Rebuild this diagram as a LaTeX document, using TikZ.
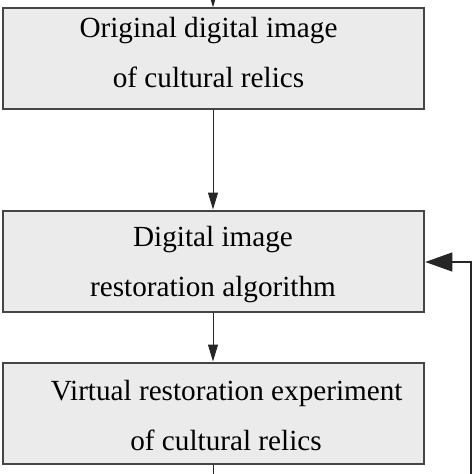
\documentclass[tikz,border=0pt]{standalone}
\usepackage{fontspec}
\setmainfont{Liberation Serif}
\usetikzlibrary{arrows.meta}
\definecolor{boxfill}{HTML}{EBEBEB}
\definecolor{boxline}{HTML}{454545}
\begin{document}
\begin{tikzpicture}[x=1pt,y=-1pt,
  box/.style={draw=boxline, line width=2pt, fill=boxfill, minimum width=421pt, minimum height=101pt, inner sep=0pt},
  txt/.style={font=\fontsize{29.2pt}{35pt}\selectfont, inner sep=0pt, anchor=base},
  conn/.style={draw=black!85, line width=1pt, -{Triangle[length=17pt,width=10pt]}},
  back/.style={draw=black!85, line width=1.2pt, -{Triangle[length=27pt,width=19pt]}}]
\useasboundingbox (0,0) rectangle (474,474);
\clip (0,0) rectangle (474,474);
\node[box] (b1) at (213.8,58.8) {};
\node[box] (b2) at (213.8,261) {};
\node[box] (b3) at (213.8,413) {};
\node[txt] (t1a) at (208.5,37) {Original digital image};
\node[txt] (t1b) at (208.5,87) {of cultural relics};
\node[txt] (t2a) at (213,246.5) {Digital image};
\node[txt] (t2b) at (213,296.7) {restoration algorithm};
\node[txt] (t3a) at (226.7,400) {Virtual restoration experiment};
\node[txt] (t3b) at (226,450.7) {of cultural relics};
\coordinate (top) at (213,-12);
\coordinate (bot) at (213,480);
\coordinate (c1) at (471,480);
\coordinate (c2) at (471,262);
\draw[conn] (top) -- (b1.north -| top);
\draw[conn] (b1.south -| top) -- (b2.north -| top);
\draw[conn] (b2.south -| top) -- (b3.north -| top);
\draw[draw=black!85, line width=1pt] (b3.south -| top) -- (bot);
\draw[back] (c1) -- (c2) -- (c2 -| b2.east);
\end{tikzpicture}
\end{document}
